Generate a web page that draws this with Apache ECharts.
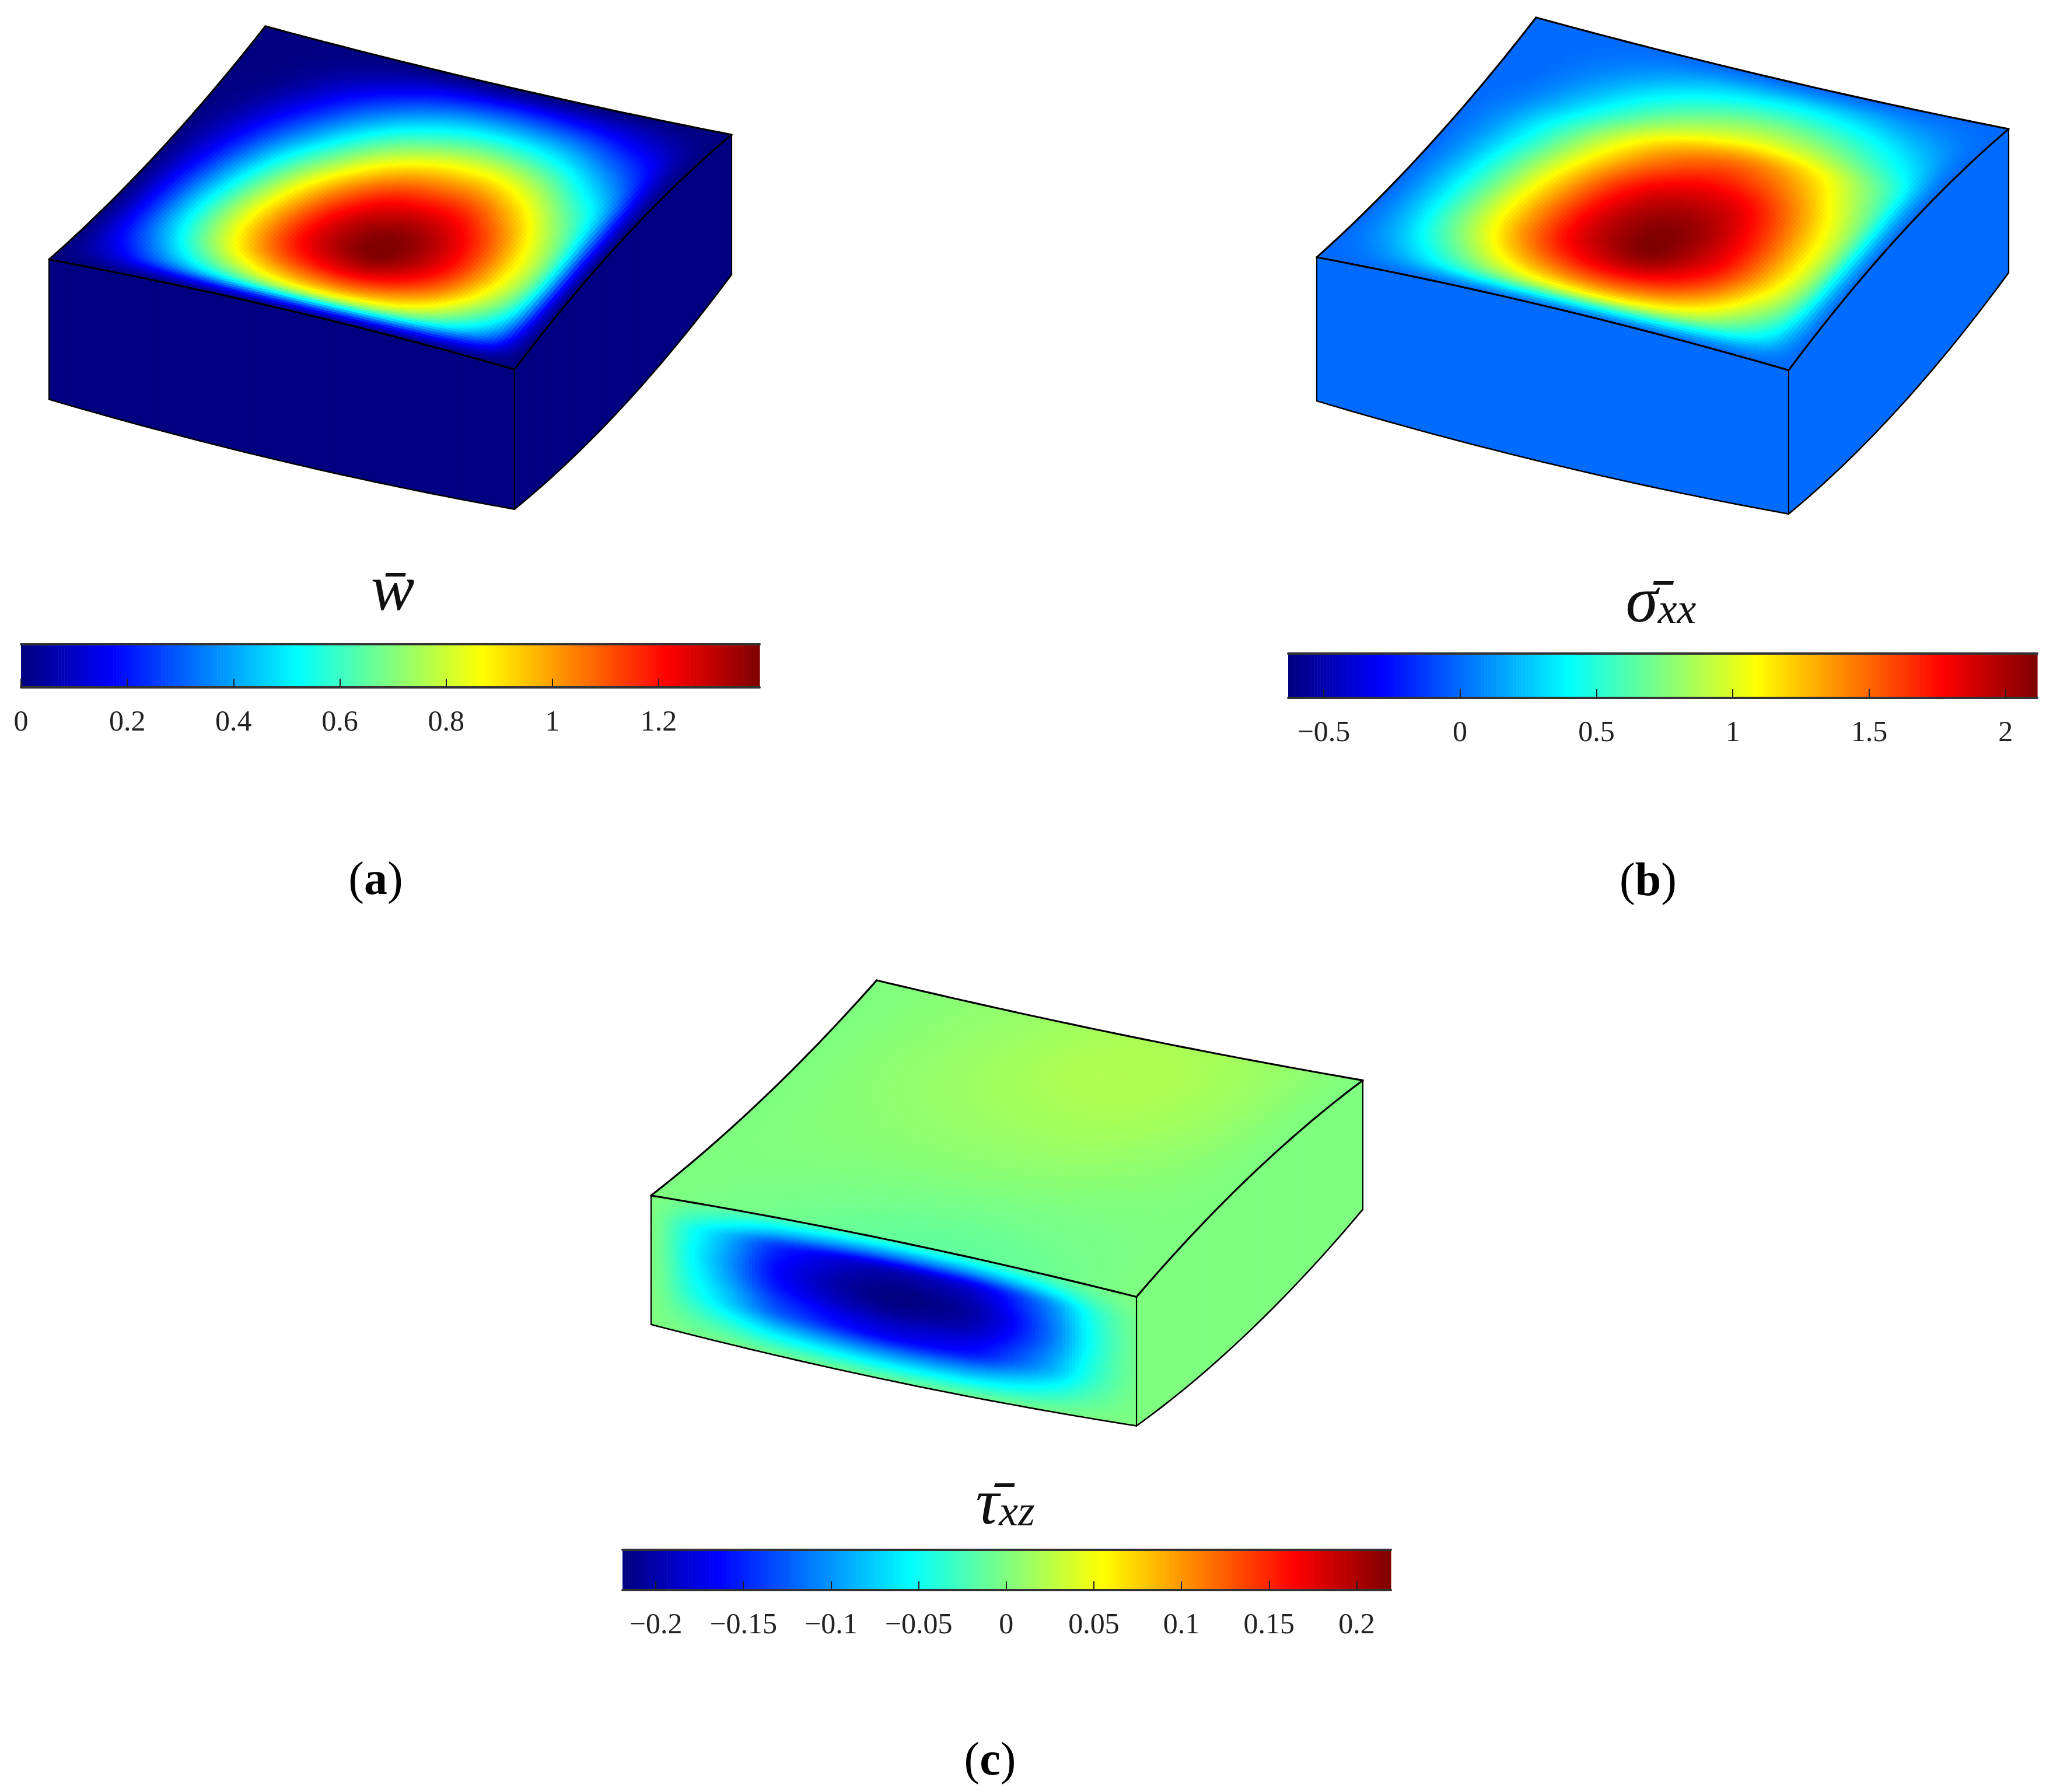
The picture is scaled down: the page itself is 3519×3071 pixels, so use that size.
<!DOCTYPE html>
<html><head><meta charset="utf-8">
<style>html,body{margin:0;padding:0;background:#fff}#c{width:3519px;height:3071px}</style>
<script src="https://cdn.jsdelivr.net/npm/echarts@6/dist/echarts.min.js"></script>
</head><body><div id="c"></div>
<script>
// ---- values ----
// top faces: rows run from the left-back edge to the front-right edge, columns from the front edge to the back edge
const wTop = [
 [0,0,0,0,0,0,0,0,0,0,0,0,0],
 [0,.10,.18,.216,.22,.205,.17,.13,.087,.04,.01,0,0],
 [0,.25,.395,.48,.494,.46,.40,.32,.235,.15,.07,.02,0],
 [0,.41,.64,.745,.764,.72,.64,.53,.40,.28,.17,.06,0],
 [0,.57,.86,.985,1.004,.955,.86,.72,.57,.42,.27,.12,0],
 [0,.71,1.03,1.186,1.207,1.15,1.04,.89,.72,.54,.36,.18,0],
 [0,.79,1.14,1.31,1.337,1.275,1.16,1.00,.81,.61,.42,.21,0],
 [0,.81,1.18,1.37,1.385,1.31,1.18,1.02,.84,.64,.43,.22,0],
 [0,.77,1.12,1.29,1.317,1.255,1.14,.98,.80,.60,.40,.20,0],
 [0,.67,.99,1.14,1.164,1.105,.99,.85,.69,.51,.34,.16,0],
 [0,.52,.785,.905,.924,.875,.78,.66,.52,.38,.24,.11,0],
 [0,.33,.52,.61,.624,.585,.52,.44,.33,.23,.14,.05,0],
 [0,0,0,0,0,0,0,0,0,0,0,0,0]
];
const sigmaTop = [
 [0,0,0,0,0,0,0,0,0,0,0,0,0],
 [0,.075,.17,.23,.25,.24,.203,.16,.112,.043,.006,0,0],
 [0,.26,.48,.615,.64,.61,.555,.456,.35,.194,.091,.028,0],
 [0,.51,.83,1.02,1.065,1.034,.947,.813,.654,.417,.235,.088,0],
 [0,.76,1.19,1.42,1.47,1.43,1.33,1.16,.96,.66,.41,.18,0],
 [0,.965,1.48,1.755,1.82,1.77,1.65,1.45,1.22,.86,.555,.276,0],
 [0,1.09,1.67,1.96,2.03,1.98,1.85,1.63,1.38,.98,.66,.33,0],
 [0,1.13,1.72,2.07,2.11,2.04,1.89,1.69,1.44,1.02,.69,.355,0],
 [0,1.05,1.62,1.91,1.98,1.93,1.81,1.58,1.34,.95,.63,.32,0],
 [0,.89,1.39,1.65,1.71,1.66,1.54,1.35,1.13,.79,.505,.243,0],
 [0,.66,1.04,1.26,1.31,1.27,1.17,1.01,.84,.565,.344,.145,0],
 [0,.38,.64,.78,.82,.80,.726,.62,.50,.313,.173,.064,0],
 [0,0,0,0,0,0,0,0,0,0,0,0,0]
];
const tauTop = [
 [0,0,0,0,0,0,0],
 [-.004,-.001,.002,.004,.006,.006,.005],
 [-.008,-.003,.003,.008,.012,.013,.011],
 [-.012,-.005,.004,.011,.017,.020,.018],
 [-.012,-.005,.004,.012,.018,.020,.018],
 [-.007,-.003,.002,.007,.011,.012,.010],
 [0,0,0,0,0,0,0]
];
// front face of panel (c): rows run from the top edge to the bottom edge
const tauFront = [
 [0,-.007,-.015,-.022,-.026,-.029,-.031,-.030,-.029,-.023,-.016,-.006,-.001],
 [0,-.024,-.047,-.071,-.084,-.094,-.099,-.097,-.091,-.073,-.049,-.020,-.003],
 [0,-.045,-.087,-.134,-.158,-.177,-.186,-.182,-.171,-.138,-.093,-.037,-.006],
 [0,-.050,-.099,-.151,-.179,-.200,-.210,-.206,-.193,-.155,-.105,-.042,-.006],
 [0,-.053,-.103,-.158,-.186,-.208,-.219,-.215,-.201,-.162,-.109,-.044,-.007],
 [0,-.050,-.099,-.151,-.179,-.200,-.210,-.206,-.193,-.155,-.105,-.042,-.006],
 [0,-.045,-.088,-.135,-.160,-.179,-.188,-.184,-.173,-.139,-.094,-.038,-.006],
 [0,-.039,-.077,-.118,-.139,-.156,-.164,-.161,-.151,-.121,-.082,-.033,-.005],
 [0,-.026,-.052,-.079,-.094,-.105,-.110,-.108,-.101,-.081,-.055,-.022,-.003],
 [0,-.013,-.026,-.040,-.047,-.052,-.055,-.054,-.051,-.041,-.027,-.011,-.002],
 [0,-.003,-.005,-.008,-.009,-.010,-.011,-.011,-.010,-.008,-.006,-.002,0]
];
const zeroFace = [[0,0],[0,0]];
const rangeW = [0, 1.39];
const rangeSigma = [-0.63, 2.116];
const rangeTau = [-0.219, 0.2195];
const ticksW = [0, 0.2, 0.4, 0.6, 0.8, 1, 1.2];
const ticksSigma = [-0.5, 0, 0.5, 1, 1.5, 2];
const ticksTau = [-0.2, -0.15, -0.1, -0.05, 0, 0.05, 0.1, 0.15, 0.2];

// ---- shared view of the block, as fractions of each panel's hidden axes ----
const view = {lt:[0,.516], back:[.317,1], right:[1,.775], front:[.682,.288], thick:.290,
  bowFront:.012, bowBack:-.009, bowLeft:-.022, bowRight:.027, bowBottomFront:-.014, bowBottomRight:-.030};
const bow = u => 4*u*(1-u);
function topPoint(s,t){
  const a=(1-s)*(1-t), b=s*(1-t), c=(1-s)*t, d=s*t;
  const x=a*view.lt[0]+b*view.front[0]+c*view.back[0]+d*view.right[0];
  const y=a*view.lt[1]+b*view.front[1]+c*view.back[1]+d*view.right[1]
    +bow(s)*((1-t)*view.bowFront+t*view.bowBack)+bow(t)*((1-s)*view.bowLeft+s*view.bowRight);
  return [x,y];
}
function frontPoint(h,s){
  const p=topPoint(s,0), x=p[0];
  const yb=(1-s)*view.lt[1]+s*view.front[1]-view.thick+bow(s)*view.bowBottomFront;
  return [x,(1-h)*p[1]+h*yb];
}
function rightPoint(h,t){
  const p=topPoint(1,t), x=p[0];
  const yb=(1-t)*view.front[1]+t*view.right[1]-view.thick+bow(t)*view.bowBottomRight;
  return [x,(1-h)*p[1]+h*yb];
}
function jet(f){
  f=Math.max(0,Math.min(1,f));
  const c=v=>Math.round(255*Math.max(0,Math.min(1,1.5-Math.abs(4*f-v))));
  return 'rgb('+c(3)+','+c(2)+','+c(1)+')';
}
// interpolated shading between the grid nodes (like MATLAB "shading interp")
function cr(p0,p1,p2,p3,x){return p1+.5*x*(p2-p0+x*(2*p0-5*p1+4*p2-p3+x*(3*(p1-p2)+p3-p0)));}
function shade(g,u,v){
  const n=g.length-1,m=g[0].length-1;
  const fu=Math.min(u*n,n-1e-9),fv=Math.min(v*m,m-1e-9);
  const i=Math.floor(fu),j=Math.floor(fv),a=fu-i,b=fv-j;
  const row=r=>{const R=g[Math.max(0,Math.min(n,r))],q=k=>R[Math.max(0,Math.min(m,k))];
    return cr(q(j-1),q(j),q(j+1),q(j+2),b);};
  return cr(row(i-1),row(i),row(i+1),row(i+2),a);
}
function faceSeries(gridIndex,values,range,place,subU,subV){
  const data=[];
  for(let i=0;i<values.length-1;i++)for(let j=0;j<values[0].length-1;j++)data.push([i,j,values[i][j]]);
  const n=values.length-1,m=values[0].length-1;
  return {type:'custom',xAxisIndex:gridIndex,yAxisIndex:gridIndex,data,silent:true,progressive:0,animation:false,z:2,
    encode:{x:[],y:[]},
    renderItem(params,api){
      const i=api.value(0),j=api.value(1),children=[];
      for(let a=0;a<subU;a++)for(let b=0;b<subV;b++){
        const u0=(i+a/subU)/n,u1=(i+(a+1)/subU)/n,v0=(j+b/subV)/m,v1=(j+(b+1)/subV)/m;
        const val=shade(values,(u0+u1)/2,(v0+v1)/2);
        const col=jet((val-range[0])/(range[1]-range[0]));
        children.push({type:'polygon',shape:{points:[place(u0,v0),place(u1,v0),place(u1,v1),place(u0,v1)].map(p=>api.coord(p))},
          style:{fill:col,stroke:col,lineWidth:1.2},silent:true});
      }
      return {type:'group',children};
    }};
}
const edgeList=[
  {w:3.2,pts:u=>topPoint(u,0)},{w:3.2,pts:u=>topPoint(u,1)},{w:3.2,pts:u=>topPoint(0,u)},{w:3.2,pts:u=>topPoint(1,u)},
  {w:2.6,pts:u=>frontPoint(1,u)},{w:2.6,pts:u=>rightPoint(1,u)},
  {w:2.2,pts:u=>frontPoint(u,0)},{w:2.2,pts:u=>frontPoint(u,1)},{w:2.2,pts:u=>rightPoint(u,1)}
];
function edgeSeries(gridIndex){
  return {type:'custom',xAxisIndex:gridIndex,yAxisIndex:gridIndex,data:edgeList.map((e,i)=>[i]),silent:true,animation:false,z:3,
    encode:{x:[],y:[]},
    renderItem(params,api){
      const e=edgeList[api.value(0)],pts=[];
      for(let k=0;k<=40;k++)pts.push(api.coord(e.pts(k/40)));
      return {type:'polyline',shape:{points:pts},style:{fill:null,stroke:'#000',lineWidth:e.w,lineCap:'round'},silent:true};
    }};
}
function barSeries(gridIndex,range){
  const data=[];
  for(let k=0;k<256;k++)data.push([range[0]+(range[1]-range[0])*k/256,range[0]+(range[1]-range[0])*(k+1)/256]);
  return {type:'custom',xAxisIndex:gridIndex,yAxisIndex:gridIndex,data,silent:true,progressive:0,animation:false,z:2,
    encode:{x:[0,1]},
    renderItem(params,api){
      const a=api.coord([api.value(0),1]),b=api.coord([api.value(1),0]);
      const col=jet(((api.value(0)+api.value(1))/2-range[0])/(range[1]-range[0]));
      return {type:'rect',shape:{x:a[0],y:a[1],width:b[0]-a[0]+.6,height:b[1]-a[1]},style:{fill:col},silent:true};
    }};
}
const panels=[{left:84,top:45,width:1170,height:826},{left:2257,top:30,width:1186,height:849},{left:1116,top:1680,width:1220,height:762}];
const bars=[
  {rect:{left:36,top:1104,width:1266,height:74},range:rangeW,ticks:ticksW},
  {rect:{left:2208,top:1120,width:1284,height:76},range:rangeSigma,ticks:ticksSigma},
  {rect:{left:1067,top:2656,width:1317,height:69},range:rangeTau,ticks:ticksTau}
];
const fmt=v=>v<0?'\u2212'+String(-v):String(v);
const hidden=()=>({type:'value',min:0,max:1,show:false});
const xAxis=[hidden(),hidden(),hidden()], yAxis=[hidden(),hidden(),hidden()], grid=panels.slice();
bars.forEach((b,i)=>{
  grid.push(b.rect);
  yAxis.push(hidden());
  xAxis.push({type:'value',gridIndex:3+i,min:b.range[0],max:b.range[1],position:'bottom',z:6,
    splitLine:{show:false},
    axisLine:{show:true,onZero:false,lineStyle:{color:'#333',width:4}},
    axisTick:{show:true,inside:true,length:15,customValues:b.ticks,lineStyle:{color:'#222',width:2}},
    axisLabel:{show:true,margin:36,customValues:b.ticks,formatter:fmt,color:'#222',fontFamily:'Liberation Serif',fontSize:50}});
});
panels.forEach((p,i)=>{xAxis[i].gridIndex=i;yAxis[i].gridIndex=i;});
bars.forEach((b,i)=>{yAxis[3+i].gridIndex=3+i;});
bars.forEach((b,i)=>{
  xAxis.push({type:'value',gridIndex:3+i,min:b.range[0],max:b.range[1],position:'top',z:6,
    splitLine:{show:false},axisTick:{show:false},axisLabel:{show:false},
    axisLine:{show:true,onZero:false,lineStyle:{color:'#333',width:4}}});
});
const mathRich={m:{fontFamily:'Liberation Serif',fontStyle:'italic',fontWeight:'normal',fontSize:112,color:'#111',padding:[0,0,26,0]},
                s:{fontFamily:'Liberation Serif',fontStyle:'italic',fontWeight:'normal',fontSize:74,color:'#111'}};
const capRich={p:{fontFamily:'Liberation Serif',fontWeight:'normal',fontSize:80,color:'#000'},b:{fontFamily:'Liberation Serif',fontWeight:'bold',fontSize:80,color:'#000'}};
const plain={fontWeight:'normal'};
const title=[
  {text:'{m|w\u0304}',left:668,top:955,textAlign:'center',textStyle:{...plain,rich:mathRich}},
  {text:'{m|\u03C3\u0304}{s|xx}',left:2842,top:975,textAlign:'center',textStyle:{...plain,rich:mathRich}},
  {text:'{m|\u03C4\u0304}{s|xz}',left:1718,top:2521,textAlign:'center',textStyle:{...plain,rich:mathRich}},
  {text:'{p|(}{b|a}{p|)}',left:639,top:1466,textAlign:'center',textStyle:{...plain,rich:capRich}},
  {text:'{p|(}{b|b}{p|)}',left:2820,top:1468,textAlign:'center',textStyle:{...plain,rich:capRich}},
  {text:'{p|(}{b|c}{p|)}',left:1692,top:2975,textAlign:'center',textStyle:{...plain,rich:capRich}}
];
const series=[
  faceSeries(0,wTop,rangeW,topPoint,10,10),
  faceSeries(0,zeroFace,rangeW,frontPoint,1,48),
  faceSeries(0,zeroFace,rangeW,rightPoint,1,48),
  edgeSeries(0),
  faceSeries(1,sigmaTop,rangeSigma,topPoint,10,10),
  faceSeries(1,zeroFace,rangeSigma,frontPoint,1,48),
  faceSeries(1,zeroFace,rangeSigma,rightPoint,1,48),
  edgeSeries(1),
  faceSeries(2,tauTop,rangeTau,topPoint,16,16),
  faceSeries(2,tauFront,rangeTau,frontPoint,16,12),
  faceSeries(2,zeroFace,rangeTau,rightPoint,1,48),
  edgeSeries(2),
  barSeries(3,rangeW),barSeries(4,rangeSigma),barSeries(5,rangeTau)
];
const chart=echarts.init(document.getElementById('c'),null,{renderer:'canvas'});
chart.setOption({backgroundColor:'#fff',animation:false,tooltip:{show:false},title,grid,xAxis,yAxis,series});
</script></body></html>
